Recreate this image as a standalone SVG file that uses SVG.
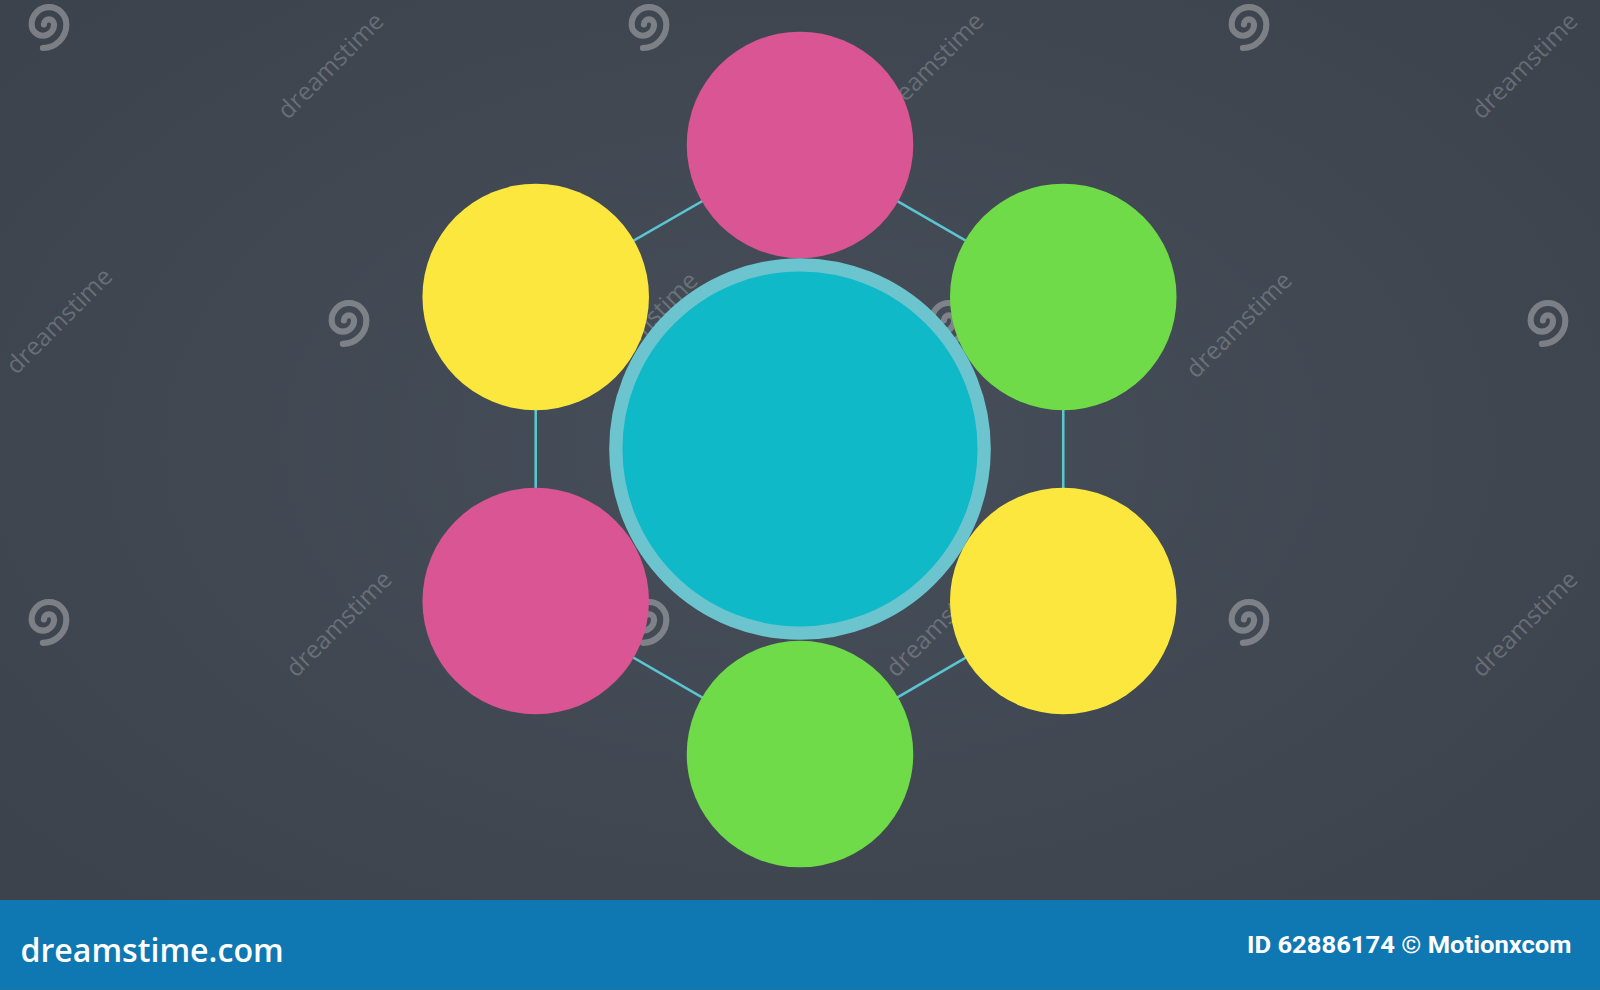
<svg xmlns="http://www.w3.org/2000/svg" width="1600" height="990" viewBox="0 0 1600 990">
<defs>
<radialGradient id="bg" cx="50%" cy="45%" r="70%">
<stop offset="0" stop-color="#464e59"/>
<stop offset="1" stop-color="#3b424c"/>
</radialGradient>
<g id="spiral">
<path d="M0,0 m-5,0 a5,5 0 1,1 10,0 a11,11 0 1,1 -22,0 a17,17 0 1,1 34,0 a23,23 0 0,1 -23,23" fill="none" stroke="#c8c8c8" stroke-width="6" stroke-linecap="round"/>
</g>
</defs>
<style>
.wm{font-family:"Open Sans","DejaVu Sans",sans-serif;font-size:24px;fill:#ffffff;fill-opacity:0.22}
.sp{opacity:0.45}
.link{stroke:#5bc6d1;stroke-width:2.5;fill:none}
.pink{fill:#d95593}
.yellow{fill:#fbe73e}
.green{fill:#6fdb48}
</style>
<g transform="scale(1.020408)">
<rect x="0" y="0" width="1568" height="970" fill="url(#bg)"/>
<g id="watermarks">
<use href="#spiral" x="48" y="24" class="sp"/>
<use href="#spiral" x="636" y="24" class="sp"/>
<use href="#spiral" x="1224" y="24" class="sp"/>
<use href="#spiral" x="342" y="314" class="sp"/>
<use href="#spiral" x="930" y="314" class="sp"/>
<use href="#spiral" x="1517" y="314" class="sp"/>
<use href="#spiral" x="48" y="607" class="sp"/>
<use href="#spiral" x="636" y="607" class="sp"/>
<use href="#spiral" x="1224" y="607" class="sp"/>
<text class="wm" transform="translate(282,118) rotate(-45)">dreamstime</text>
<text class="wm" transform="translate(870,118) rotate(-45)">dreamstime</text>
<text class="wm" transform="translate(1452,118) rotate(-45)">dreamstime</text>
<text class="wm" transform="translate(16,368) rotate(-45)">dreamstime</text>
<text class="wm" transform="translate(590,372) rotate(-45)">dreamstime</text>
<text class="wm" transform="translate(1172,372) rotate(-45)">dreamstime</text>
<text class="wm" transform="translate(290,665) rotate(-45)">dreamstime</text>
<text class="wm" transform="translate(878,665) rotate(-45)">dreamstime</text>
<text class="wm" transform="translate(1452,665) rotate(-45)">dreamstime</text>
</g>
<g id="connectors">
<line class="link" x1="784" y1="142" x2="525" y2="291"/>
<line class="link" x1="784" y1="142" x2="1042" y2="291"/>
<line class="link" x1="525" y1="291" x2="525" y2="589"/>
<line class="link" x1="1042" y1="291" x2="1042" y2="589"/>
<line class="link" x1="525" y1="589" x2="784" y2="739"/>
<line class="link" x1="1042" y1="589" x2="784" y2="739"/>
</g>
<g id="node-top"><circle class="pink" cx="784" cy="142" r="111"/></g>
<g id="node-top-left"><circle class="yellow" cx="525" cy="291" r="111"/></g>
<g id="node-top-right"><circle class="green" cx="1042" cy="291" r="111"/></g>
<g id="node-bottom-left"><circle class="pink" cx="525" cy="589" r="111"/></g>
<g id="node-bottom-right"><circle class="yellow" cx="1042" cy="589" r="111"/></g>
<g id="node-bottom"><circle class="green" cx="784" cy="739" r="111"/></g>
<g id="node-center">
<circle cx="784" cy="440" r="180.5" fill="#0fb9c8" stroke="#6cc4cf" stroke-width="13"/>
</g>
<g id="footer">
<rect x="0" y="882" width="1568" height="88" fill="#0f77b1"/>
<text x="20" y="943" font-family="'Open Sans','DejaVu Sans',sans-serif" font-weight="600" font-size="31" textLength="258" lengthAdjust="spacingAndGlyphs" fill="#ffffff">dreamstime.com</text>
<text x="1222" y="934" font-family="Roboto,'Liberation Sans',sans-serif" font-weight="bold" font-size="23" textLength="318" lengthAdjust="spacingAndGlyphs" fill="#ffffff">ID 62886174 © Motionxcom</text>
</g>
</g>
</svg>
